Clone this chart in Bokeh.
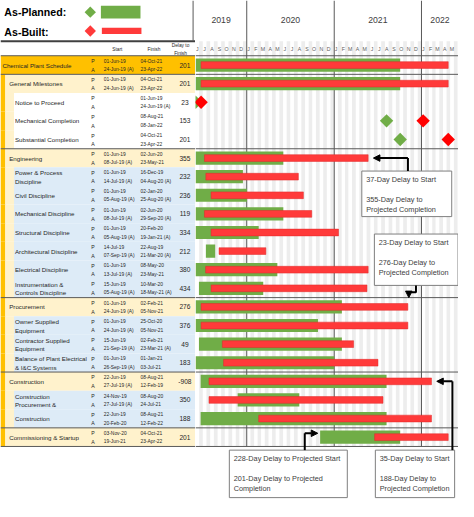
import numpy as np
import pandas as pd
from bokeh.plotting import figure
from bokeh.models import Range1d, Arrow, NormalHead
from bokeh.layouts import row
from bokeh.embed import file_html
from bokeh.resources import INLINE
from bokeh.core.properties import value

# ---------------- data ----------------
legend_labels = ["As-Planned:", "As-Built:"]
col_headers = ["Start", "Finish", "Delay to", "Finish"]

names = ["Chemical Plant Schedule", "General Milestones", "Notice to Proceed",
         "Mechanical Completion", "Substantial Completion", "Engineering",
         "Power & Process\nDiscipline", "Civil Discipline", "Mechanical Discipline",
         "Structural Discipline", "Architectural Discipline", "Electrical Discipline",
         "Instrumentation &\nControls Discipline", "Procurement",
         "Owner Supplied\nEquipment", "Contractor Supplied\nEquipment",
         "Balance of Plant Electrical\n& I&C Systems", "Construction",
         "Construction\nProcurement &", "Construction", "Commissioning & Startup"]
kinds = ["root", "group", "milestone", "milestone", "milestone", "group",
         "task", "task", "task", "task", "task", "task", "task", "group",
         "task", "task", "task", "group", "task", "task", "group"]
p_start_txt = ["01-Jun-19", "01-Jun-19", "", "", "", "01-Jun-19", "01-Jun-19", "01-Jun-19",
               "01-Jun-19", "01-Jun-19", "14-Jul-19", "01-Jun-19", "15-Jun-19", "01-Jun-19",
               "01-Jun-19", "15-Jun-19", "01-Jun-19", "22-Jun-19", "24-Nov-19", "22-Jun-19",
               "03-Nov-20"]
p_finish_txt = ["04-Oct-21", "04-Oct-21", "01-Jun-19", "08-Aug-21", "04-Oct-21", "02-Jun-20",
                "16-Dec-19", "02-Jan-20", "02-Jun-20", "20-Feb-20", "22-Aug-19", "08-May-20",
                "10-Mar-20", "02-Feb-21", "25-Oct-20", "02-Feb-21", "01-Jan-21", "08-Aug-21",
                "08-Aug-20", "08-Aug-21", "04-Oct-21"]
a_start_txt = ["24-Jun-19 (A)", "24-Jun-19 (A)", "", "", "", "08-Jul-19 (A)", "14-Jul-19 (A)",
               "05-Aug-19 (A)", "08-Jul-19 (A)", "05-Aug-19 (A)", "07-Sep-19 (A)",
               "13-Jul-19 (A)", "05-Aug-19 (A)", "24-Jun-19 (A)", "24-Jun-19 (A)",
               "21-Sep-19 (A)", "26-Sep-19 (A)", "27-Jul-19 (A)", "27-Jul-19 (A)",
               "20-Feb-20", "19-Jun-21"]
a_finish_txt = ["23-Apr-22", "23-Apr-22", "24-Jun-19 (A)", "08-Jan-22", "23-Apr-22",
                "23-May-21", "04-Aug-20 (A)", "25-Aug-20 (A)", "29-Sep-20 (A)",
                "19-Jan-21 (A)", "21-Mar-20 (A)", "23-May-21", "18-May-21 (A)", "05-Nov-21",
                "05-Nov-21", "23-Mar-21 (A)", "03-Jul-21", "12-Feb-19", "24-Jul-21",
                "12-Feb-22", "23-Apr-22"]
delay_txt = ["201", "201", "23", "153", "201", "355", "232", "236", "119", "334", "212",
             "380", "434", "276", "376", "49", "183", "-908", "350", "188", "201"]

# bar dates (None = milestone row)
plan_start = ["2019-06-01", "2019-06-01", None, None, None, "2019-06-01", "2019-06-01",
              "2019-06-01", "2019-06-01", "2019-06-01", "2019-07-14", "2019-06-01",
              "2019-06-15", "2019-06-01", "2019-06-01", "2019-06-15", "2019-06-01",
              "2019-06-22", "2019-11-24", "2019-06-22", "2020-11-03"]
plan_finish = ["2021-10-04", "2021-10-04", None, None, None, "2020-06-02", "2019-12-16",
               "2020-01-02", "2020-06-02", "2020-02-20", "2019-08-22", "2020-05-08",
               "2020-03-10", "2021-02-02", "2020-10-25", "2021-02-02", "2021-01-01",
               "2021-08-08", "2020-08-08", "2021-08-08", "2021-10-04"]
act_start = ["2019-06-24", "2019-06-24", None, None, None, "2019-07-08", "2019-07-14",
             "2019-08-05", "2019-07-08", "2019-08-05", "2019-09-07", "2019-07-13",
             "2019-08-05", "2019-06-24", "2019-06-24", "2019-09-21", "2019-09-26",
             "2019-07-27", "2019-07-27", "2020-02-20", "2021-06-19"]
act_finish = ["2022-04-23", "2022-04-23", None, None, None, "2021-05-23", "2020-08-04",
              "2020-08-25", "2020-09-29", "2021-01-19", "2020-03-21", "2021-05-23",
              "2021-05-18", "2021-11-05", "2021-11-05", "2021-03-23", "2021-07-03",
              "2022-02-12", "2021-07-24", "2022-02-12", "2022-04-23"]

ms_rows = [2, 3, 4]
ms_planned = ["2019-06-01", "2021-08-08", "2021-10-04"]
ms_actual = ["2019-06-24", "2022-01-08", "2022-04-23"]

years = ["2019", "2020", "2021", "2022"]
month_letters = list("JJASOND") + list("JFMAMJJASOND") + list("JFMAMJJASOND") + list("JFMAM")

ann_texts = [
    ["37-Day Delay to Start", "355-Day Delay to", "Projected Completion"],
    ["23-Day Delay to Start", "276-Day Delay to", "Projected Completion"],
    ["228-Day Delay to Projected Start", "201-Day Delay to Projected", "Completion"],
    ["35-Day Delay to Start", "188-Day Delay to", "Projected Completion"],
]

# ---------------- layout helpers ----------------
S = 458 / 474.0
W_L, W_R, H = 195, 263, 501
TOP, RH = 57.0, 19.2
BOT = TOP + RH * len(names)
PXD = 0.2472  # reference px per day


def yc(i):
    return TOP + RH * (i + 0.5)


def yp(i):
    return TOP + RH * i + 5.6


def ya(i):
    return TOP + RH * i + 14.4


def fs(px):
    return f"{px * S:.1f}px"


SANS = value("Liberation Sans")
ORANGE, LYEL, LBLUE = "#ffc000", "#fff2cc", "#ddebf7"
GREEN, RED, GRID = "#70ad47", "#ff3a3a", "#595959"
TXT = "#262626"


def mk(width, xr):
    p = figure(width=width, height=H, x_range=xr, y_range=Range1d(517, 0),
               toolbar_location=None, output_backend="svg", x_axis_type=None,
               y_axis_type=None, min_border=0, outline_line_color=None,
               background_fill_color="white", border_fill_color="white")
    return p


def txt(p, xs, ys, texts, size, align="left", color=TXT, style="normal"):
    p.text(x=xs, y=ys, text=texts, text_font=SANS, text_font_size=fs(size),
           text_align=align, text_baseline="middle", text_color=color,
           text_font_style=style)


sep_y = [TOP + RH * i for i, k in enumerate(kinds) if k in ("root", "group")] + [BOT]

# ---------------- left table ----------------
L = mk(W_L, Range1d(0, 202))
txt(L, [4, 4], [12, 32], legend_labels, 11, color="black", style="bold")
L.scatter(x=[93, 93], y=[12, 31.5], marker="square", angle=np.pi / 4, size=8.3 * S,
          fill_color=[GREEN, RED], line_color=None)
L.quad(left=[104, 105], right=[145, 146], top=[5.5, 28], bottom=[18.5, 34.5],
       fill_color=[GREEN, RED], line_color=None)
L.line(x=[0, 202], y=[42, 42], line_color="#404040", line_width=2)
L.line(x=[199.5, 199.5], y=[0, 42], line_color=GRID, line_width=1)
txt(L, [121, 159, 186.5, 186.5], [51, 51, 46.5, 55], col_headers, 5.0, align="center")

ql, qr, qt, qb, qc = [], [], [], [], []


def addq(l, r, t, b, c):
    ql.append(l); qr.append(r); qt.append(t); qb.append(b); qc.append(c)


for i, k in enumerate(kinds):
    t, b = TOP + RH * i, TOP + RH * (i + 1)
    if k == "root":
        addq(0, 202, t, b, ORANGE)
    else:
        addq(0, 5, t, b, ORANGE)
        if k == "group":
            addq(5, 202, t, b, LYEL)
        else:
            addq(5, 14, t, b, LYEL)
            addq(14, 202, t, b, "white" if k == "milestone" else LBLUE)
L.quad(left=ql, right=qr, top=qt, bottom=qb, fill_color=qc, line_color=None)

for y in sep_y:
    L.line(x=[0, 202], y=[y, y], line_color=GRID, line_width=1)

nx, ny, nt = [], [], []
for i, (nm, k) in enumerate(zip(names, kinds)):
    x = 2 if k == "root" else (9 if k == "group" else 15)
    parts = nm.split("\n")
    if len(parts) == 1:
        nx.append(x); ny.append(yc(i)); nt.append(nm)
    else:
        nx += [x, x]; ny += [yp(i), ya(i)]; nt += parts
txt(L, nx, ny, nt, 6.4)

n = len(names)
txt(L, [94] * n * 2, [yp(i) for i in range(n)] + [ya(i) for i in range(n)],
    ["P"] * n + ["A"] * n, 5.4)
txt(L, [107] * n * 2, [yp(i) for i in range(n)] + [ya(i) for i in range(n)],
    p_start_txt + a_start_txt, 5.1)
txt(L, [145] * n * 2, [yp(i) for i in range(n)] + [ya(i) for i in range(n)],
    p_finish_txt + a_finish_txt, 5.1)
txt(L, [191] * n, [yc(i) for i in range(n)], delay_txt, 6.8, align="center")

# ---------------- right gantt ----------------
x0 = pd.Timestamp("2019-06-01") - pd.Timedelta(days=0.4)
x1 = x0 + pd.Timedelta(days=272 / PXD)


def xd(px):
    return x0 + pd.Timedelta(days=(px - 202) / PXD)


def ms(t):
    return pd.Timestamp(t).value / 1e6


R = mk(W_R, Range1d(x0, x1))

months = pd.date_range("2019-06-01", periods=len(month_letters), freq="MS")
nexts = months + pd.offsets.MonthBegin(1)
mids = months + (nexts - months) / 2
R.quad(left=mids.values, right=nexts.values, top=42, bottom=BOT,
       fill_color="#ededed", line_color=None)
txt(R, (months + (nexts - months) / 4).values, [50] * len(months), month_letters, 5.4,
    align="center", color=GRID)

ystarts = [x0] + [pd.Timestamp(f"{y}-01-01") for y in years[1:]]
yends = [pd.Timestamp(f"{y}-01-01") for y in years[1:]] + [x1]
ycent = [a + (b - a) / 2 for a, b in zip(ystarts, yends)]
txt(R, pd.to_datetime(ycent).values, [20] * len(years), years, 9,
    align="center", color="#404040")
for yb in ystarts[1:]:
    R.line(x=pd.to_datetime([yb, yb]).values, y=[0, BOT], line_color=GRID, line_width=1)
for y in sep_y:
    R.line(x=pd.to_datetime([x0, x1]).values, y=[y, y], line_color=GRID, line_width=1)

idx = [i for i in range(n) if plan_start[i]]
R.quad(left=pd.to_datetime([plan_start[i] for i in idx]).values,
       right=pd.to_datetime([plan_finish[i] for i in idx]).values,
       top=[yc(i) - 6.8 for i in idx], bottom=[yc(i) + 6.8 for i in idx],
       fill_color=GREEN, line_color=None)
R.quad(left=pd.to_datetime([act_start[i] for i in idx]).values,
       right=pd.to_datetime([act_finish[i] for i in idx]).values,
       top=[yc(i) - 3.5 for i in idx], bottom=[yc(i) + 3.5 for i in idx],
       fill_color=RED, line_color="#e02828", line_width=0.5)

R.scatter(x=pd.to_datetime(ms_planned).values, y=[yc(i) for i in ms_rows], marker="square",
          angle=np.pi / 4, size=9.8 * S, fill_color=GREEN, line_color=None)
R.scatter(x=pd.to_datetime(ms_actual).values, y=[yc(i) for i in ms_rows], marker="square",
          angle=np.pi / 4, size=9.8 * S, fill_color="#ff0000", line_color=None)

# ---------------- callouts ----------------
boxes = [(374, 467, 176, 223), (387, 473.5, 241, 294), (237, 359, 464, 513), (388, 470, 464, 513)]
R.quad(left=[xd(b[0]) for b in boxes], right=[xd(b[1]) for b in boxes],
       top=[b[2] for b in boxes], bottom=[b[3] for b in boxes],
       fill_color="white", line_color="#7f7f7f", line_width=1)
for b, lines in zip(boxes, ann_texts):
    txt(R, [xd(b[0] + 4.5)] * 3, [b[2] + 8.7, b[2] + 29.3, b[2] + 39.3], lines, 7.6,
        color="#404040")

day = pd.Timedelta(days=1)
connectors = [
    [(xd(421.7), 176), (xd(421.7), yc(5)), (pd.Timestamp(act_finish[5]) + 22 * day, yc(5))],
    [(xd(430), 294), (xd(430), 301), (pd.Timestamp(act_finish[13]) + 4 * day, 301),
     (pd.Timestamp(act_finish[13]) + 4 * day, TOP + RH * 13)],
    [(xd(315), 464), (xd(315), yc(20) - 4), (pd.Timestamp(plan_start[20]) - 10 * day, yc(20) - 4)],
    [(xd(467.7), 464), (xd(467.7), yc(17)), (pd.Timestamp(act_finish[17]) + 22 * day, yc(17))],
]
for pts in connectors:
    R.line(x=pd.to_datetime([p[0] for p in pts[:-1]]).values, y=[p[1] for p in pts[:-1]],
           line_color="black", line_width=2)
    R.add_layout(Arrow(end=NormalHead(size=6.5, fill_color="black", line_color="black",
                                      line_width=1),
                       x_start=ms(pts[-2][0]), y_start=pts[-2][1],
                       x_end=ms(pts[-1][0]), y_end=pts[-1][1],
                       line_color="black", line_width=2))

layout = row(L, R)
open("out.html", "w").write(file_html(layout, INLINE))
